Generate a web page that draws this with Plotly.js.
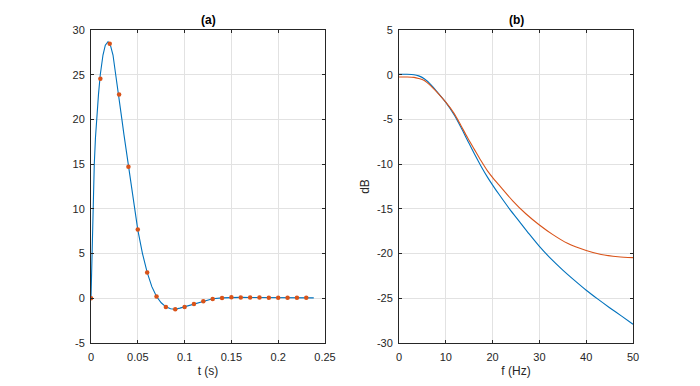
<!DOCTYPE html>
<html>
<head>
<meta charset="utf-8">
<script src="https://cdn.plot.ly/plotly-3.0.1.min.js"></script>
<style>html,body{margin:0;padding:0;background:#fff;}#chart{width:700px;height:386px;}</style>
</head>
<body>
<div id="chart"></div>
<script>
// (a) impulse response: continuous curve (blue) and sampled points (orange)
const tCurve = [0, 0.001, 0.002, 0.0035, 0.0048, 0.006, 0.008, 0.0099, 0.0128, 0.0153, 0.0182, 0.021, 0.0235, 0.0264, 0.0296, 0.033, 0.0352, 0.04, 0.045, 0.05, 0.055, 0.06, 0.065, 0.07, 0.075, 0.08, 0.085, 0.09, 0.095, 0.1, 0.105, 0.11, 0.115, 0.12, 0.125, 0.13, 0.14, 0.15, 0.16, 0.17, 0.18, 0.19, 0.2, 0.21, 0.22, 0.23, 0.238];
const hCurve = [0, 4.5, 9.5, 15, 18, 20, 22.8, 25, 27.2, 28.3, 28.7, 28.2, 27.2, 25, 22.8, 20, 18.3, 14.7, 11, 7.65, 5.0, 2.9, 1.3, 0.2, -0.5, -0.96, -1.17, -1.22, -1.1, -0.96, -0.8, -0.62, -0.47, -0.33, -0.18, -0.06, 0.05, 0.1, 0.1, 0.09, 0.08, 0.07, 0.06, 0.05, 0.05, 0.05, 0.05];
const tSamples = [0, 0.01, 0.02, 0.03, 0.04, 0.05, 0.06, 0.07, 0.08, 0.09, 0.1, 0.11, 0.12, 0.13, 0.14, 0.15, 0.16, 0.17, 0.18, 0.19, 0.2, 0.21, 0.22, 0.23];
const hSamples = [0, 24.55, 28.45, 22.8, 14.7, 7.7, 2.87, 0.19, -0.97, -1.23, -0.97, -0.63, -0.34, -0.07, 0.04, 0.11, 0.1, 0.1, 0.08, 0.07, 0.06, 0.05, 0.05, 0.05];

// (b) magnitude responses in dB
const fBlue = [0, 1.5, 3.2, 4.2, 5.4, 6.8, 8.2, 10, 11.8, 13.2, 14.6, 16.1, 17.5, 18.9, 20.4, 21.4, 23.6, 25.7, 27.8, 30, 32.5, 35, 37.5, 40, 42.5, 45, 47.5, 50];
const dbBlue = [0.06, 0.05, 0.0, -0.13, -0.45, -1.1, -1.95, -3.1, -4.5, -5.85, -7.3, -8.85, -10.2, -11.45, -12.65, -13.4, -15.0, -16.4, -17.8, -19.2, -20.6, -21.85, -23.0, -24.1, -25.1, -26.05, -26.97, -27.9];
const fOrange = [0, 1.5, 3.2, 4.2, 5.4, 6.8, 8.2, 10, 11.8, 13.2, 14.6, 16.1, 17.5, 18.9, 20.4, 21.4, 24.3, 27.1, 30, 32.8, 36, 40, 43.2, 46.8, 50];
const dbOrange = [-0.25, -0.26, -0.3, -0.42, -0.65, -1.25, -2.0, -3.07, -4.35, -5.65, -7.0, -8.35, -9.6, -10.75, -11.75, -12.35, -14.1, -15.55, -16.8, -17.85, -18.85, -19.65, -20.1, -20.35, -20.45];

const xTicksA = [0, 0.05, 0.1, 0.15, 0.2, 0.25];
const xTickTextA = ['0', '0.05', '0.1', '0.15', '0.2', '0.25'];
const yTicksA = [-5, 0, 5, 10, 15, 20, 25, 30];
const yTickTextA = ['-5', '0', '5', '10', '15', '20', '25', '30'];
const xTicksB = [0, 10, 20, 30, 40, 50];
const xTickTextB = ['0', '10', '20', '30', '40', '50'];
const yTicksB = [-30, -25, -20, -15, -10, -5, 0, 5];
const yTickTextB = ['-30', '-25', '-20', '-15', '-10', '-5', '0', '5'];

const BLUE = '#0072BD', ORANGE = '#D95319', AX = '#262626';
const FONT = 'Liberation Sans, Arial, Helvetica, sans-serif';

const traces = [
  {x: tCurve, y: hCurve, type: 'scatter', mode: 'lines', line: {color: BLUE, width: 1.1}, xaxis: 'x', yaxis: 'y', hoverinfo: 'skip'},
  {x: tSamples, y: hSamples, type: 'scatter', mode: 'markers', marker: {color: ORANGE, size: 4.5}, xaxis: 'x', yaxis: 'y'},
  {x: fBlue, y: dbBlue, type: 'scatter', mode: 'lines', line: {color: BLUE, width: 1.1, shape: 'spline', smoothing: 0.8}, xaxis: 'x2', yaxis: 'y2'},
  {x: fOrange, y: dbOrange, type: 'scatter', mode: 'lines', line: {color: ORANGE, width: 1.1, shape: 'spline', smoothing: 0.8}, xaxis: 'x2', yaxis: 'y2'}
];

function ax(extra) {
  return Object.assign({
    showline: true, linecolor: AX, linewidth: 1, mirror: 'ticks',
    ticks: 'inside', ticklen: 3, tickcolor: AX, tickwidth: 1,
    showgrid: true, gridcolor: '#e2e2e2', gridwidth: 1,
    zeroline: false, tickmode: 'array',
    tickfont: {family: FONT, size: 11, color: AX},
    fixedrange: true
  }, extra);
}

const layout = {
  width: 700, height: 386,
  margin: {l: 0, r: 0, t: 0, b: 0},
  paper_bgcolor: '#fff', plot_bgcolor: '#fff',
  showlegend: false,
  font: {family: FONT, color: AX},
  xaxis: ax({domain: [91/700, 325/700], range: [0, 0.25], tickvals: xTicksA, ticktext: xTickTextA, anchor: 'y', ticklabelstandoff: 4,
    title: {text: 't (s)', font: {family: FONT, size: 12, color: AX}, standoff: 4}}),
  yaxis: ax({domain: [43/386, 356/386], range: [-5, 30], tickvals: yTicksA, ticktext: yTickTextA, anchor: 'x', ticklabelstandoff: 3}),
  xaxis2: ax({domain: [399/700, 633/700], range: [0, 50], tickvals: xTicksB, ticktext: xTickTextB, anchor: 'y2', ticklabelstandoff: 4,
    title: {text: 'f (Hz)', font: {family: FONT, size: 12, color: AX}, standoff: 4}}),
  yaxis2: ax({domain: [43/386, 356/386], range: [-30, 5], tickvals: yTicksB, ticktext: yTickTextB, anchor: 'x2', ticklabelstandoff: 3,
    title: {text: 'dB', font: {family: FONT, size: 12, color: AX}, standoff: 4}}),
  annotations: [
    {text: '<b>(a)</b>', x: 0.5, xref: 'x domain', y: 1, yref: 'y domain', yanchor: 'bottom', yshift: 1, showarrow: false, font: {family: FONT, size: 12, color: '#000'}},
    {text: '<b>(b)</b>', x: 0.5, xref: 'x2 domain', y: 1, yref: 'y2 domain', yanchor: 'bottom', yshift: 1, showarrow: false, font: {family: FONT, size: 12, color: '#000'}}
  ]
};

Plotly.newPlot('chart', traces, layout, {displayModeBar: false, staticPlot: true});
</script>
</body>
</html>
